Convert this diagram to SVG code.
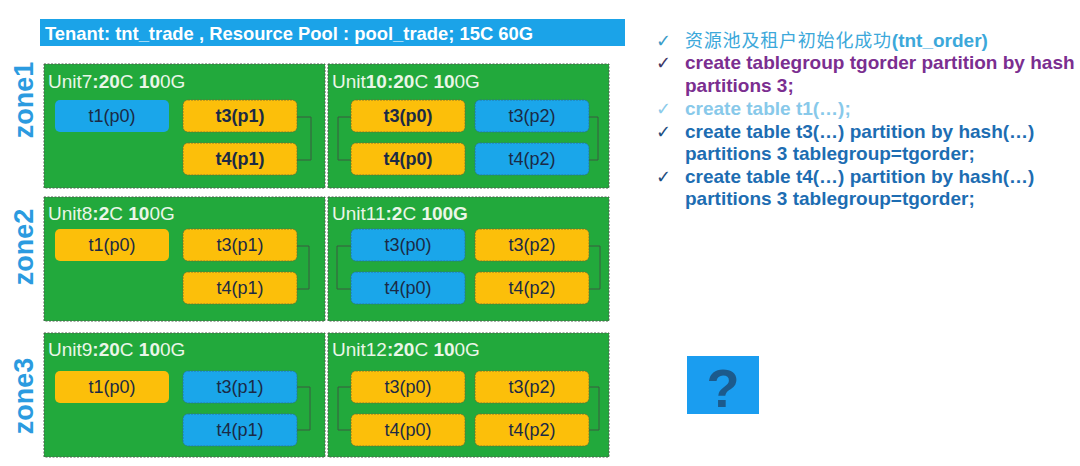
<svg xmlns="http://www.w3.org/2000/svg" width="1080" height="466" viewBox="0 0 1080 466">
<style>
.panel{fill:#22a93c;stroke:#4f5f4f;stroke-width:1;stroke-dasharray:2 1.5}
.o{fill:#fcbf0a;stroke:#6f6a30;stroke-width:0.8;stroke-dasharray:2 1}
.b{fill:#1aa6ea;stroke:#2b6d95;stroke-width:0.8;stroke-dasharray:2 1}
.bt{font-family:"Liberation Sans",Arial,sans-serif;font-size:18px;fill:#1b2a45;text-anchor:middle}
.bold{font-weight:bold}
.ul{font-family:"Liberation Sans",Arial,sans-serif;font-size:19px;fill:#eaf6e8}
.zone{font-family:"Liberation Sans",Arial,sans-serif;font-size:27px;font-weight:bold;fill:#2b9be0;text-anchor:middle}
.con{fill:none;stroke:#3a5a40;stroke-width:1}
.rt{font-family:"Liberation Sans",Arial,"Noto Sans CJK SC",sans-serif;font-size:19px;font-weight:bold}
.ck{font-family:"DejaVu Sans",sans-serif;font-size:18px}
</style>
<rect width="1080" height="466" fill="#ffffff"/>
<g id="banner">
<rect x="40" y="19" width="585" height="27" fill="#1ba3e8"/>
<text x="45" y="39.5" font-family="Liberation Sans,Arial,sans-serif" font-size="18.4" font-weight="bold" fill="#ffffff">Tenant: tnt_trade , Resource Pool : pool_trade; 15C 60G</text>
</g>
<g id="zones">
<text class="zone" transform="translate(33,100) rotate(-90)">zone1</text>
<text class="zone" transform="translate(33,247) rotate(-90)">zone2</text>
<text class="zone" transform="translate(33,396) rotate(-90)">zone3</text>
</g>
<g id="unit7">
<rect class="panel" x="44" y="64" width="281" height="124"/>
<text class="ul" x="48" y="88">Unit7<tspan class="bold">:20</tspan>C <tspan class="bold">10</tspan>0G</text>
<rect class="b" x="55" y="100" width="114" height="32" rx="5" style="stroke:none"/><text class="bt" x="112" y="122">t1(p0)</text>
<rect class="o" x="183" y="100" width="114" height="32" rx="5"/><text class="bt bold" x="240" y="122">t3(p1)</text>
<rect class="o" x="183" y="143" width="114" height="32" rx="5"/><text class="bt bold" x="240" y="165">t4(p1)</text>
</g>
<g id="unit10">
<rect class="panel" x="328" y="64" width="281" height="124"/>
<text class="ul" x="332" y="88">Unit<tspan class="bold">10:20</tspan>C <tspan class="bold">10</tspan>0G</text>
<rect class="o" x="351" y="100" width="114" height="32" rx="5"/><text class="bt bold" x="408" y="122">t3(p0)</text>
<rect class="b" x="475" y="100" width="114" height="32" rx="5"/><text class="bt" x="532" y="122">t3(p2)</text>
<rect class="o" x="351" y="143" width="114" height="32" rx="5"/><text class="bt bold" x="408" y="165">t4(p0)</text>
<rect class="b" x="475" y="143" width="114" height="32" rx="5"/><text class="bt" x="532" y="165">t4(p2)</text>
</g>
<g id="unit8">
<rect class="panel" x="44" y="197" width="281" height="124"/>
<text class="ul" x="48" y="220">Unit8<tspan class="bold">:2</tspan>C <tspan class="bold">10</tspan>0G</text>
<rect class="o" x="55" y="229" width="114" height="32" rx="5" style="stroke:none"/><text class="bt" x="112" y="251">t1(p0)</text>
<rect class="o" x="183" y="229" width="114" height="32" rx="5"/><text class="bt" x="240" y="251">t3(p1)</text>
<rect class="o" x="183" y="272" width="114" height="32" rx="5"/><text class="bt" x="240" y="294">t4(p1)</text>
</g>
<g id="unit11">
<rect class="panel" x="328" y="197" width="281" height="124"/>
<text class="ul" x="332" y="220">Unit11<tspan class="bold">:2</tspan>C <tspan class="bold">100G</tspan></text>
<rect class="b" x="351" y="229" width="114" height="32" rx="5"/><text class="bt" x="408" y="251">t3(p0)</text>
<rect class="o" x="475" y="229" width="114" height="32" rx="5"/><text class="bt" x="532" y="251">t3(p2)</text>
<rect class="b" x="351" y="272" width="114" height="32" rx="5"/><text class="bt" x="408" y="294">t4(p0)</text>
<rect class="o" x="475" y="272" width="114" height="32" rx="5"/><text class="bt" x="532" y="294">t4(p2)</text>
</g>
<g id="unit9">
<rect class="panel" x="44" y="333" width="281" height="124"/>
<text class="ul" x="48" y="356">Unit9<tspan class="bold">:20</tspan>C <tspan class="bold">10</tspan>0G</text>
<rect class="o" x="55" y="371" width="114" height="32" rx="5" style="stroke:none"/><text class="bt" x="112" y="393">t1(p0)</text>
<rect class="b" x="183" y="371" width="114" height="32" rx="5"/><text class="bt" x="240" y="393">t3(p1)</text>
<rect class="b" x="183" y="414" width="114" height="32" rx="5"/><text class="bt" x="240" y="436">t4(p1)</text>
</g>
<g id="unit12">
<rect class="panel" x="328" y="333" width="281" height="124"/>
<text class="ul" x="332" y="356">Unit12<tspan class="bold">:20</tspan>C <tspan class="bold">10</tspan>0G</text>
<rect class="o" x="351" y="371" width="114" height="32" rx="5"/><text class="bt" x="408" y="393">t3(p0)</text>
<rect class="o" x="475" y="371" width="114" height="32" rx="5"/><text class="bt" x="532" y="393">t3(p2)</text>
<rect class="o" x="351" y="414" width="114" height="32" rx="5"/><text class="bt" x="408" y="436">t4(p0)</text>
<rect class="o" x="475" y="414" width="114" height="32" rx="5"/><text class="bt" x="532" y="436">t4(p2)</text>
</g>
<g id="connectors">
<path class="con" d="M297 117H311V160H297"/>
<path class="con" d="M351 117H338V160H351"/>
<path class="con" d="M589 117H598V160H589"/>
<path class="con" d="M297 246H309V289H297"/>
<path class="con" d="M351 246H337V289H351"/>
<path class="con" d="M589 246H600V289H589"/>
<path class="con" d="M297 387H310V430H297"/>
<path class="con" d="M351 387H338V430H351"/>
<path class="con" d="M589 387H599V430H589"/>
</g>
<g id="notes">
<text class="ck" x="656" y="47" fill="#3a9cc8">✓</text>
<text class="rt" x="685" y="47" fill="#3ca8da"><tspan font-weight="normal" font-family="Noto Sans CJK SC,sans-serif" font-size="18" letter-spacing="0.8">资源池及租户初始化成功</tspan>(tnt_order)</text>
<text class="ck" x="656" y="69" fill="#3d3566">✓</text>
<text class="rt" x="685" y="69" fill="#7b2e90">create tablegroup tgorder partition by hash</text>
<text class="rt" x="685" y="92" fill="#7b2e90">partitions 3;</text>
<text class="ck" x="656" y="115" fill="#8ccbea">✓</text>
<text class="rt" x="685" y="115" fill="#88c9ea">create table t1(…);</text>
<text class="ck" x="656" y="138" fill="#1d4d80">✓</text>
<text class="rt" x="685" y="138" fill="#1d6db2">create table t3(…) partition by hash(…)</text>
<text class="rt" x="685" y="160" fill="#1d6db2">partitions 3 tablegroup=tgorder;</text>
<text class="ck" x="656" y="183" fill="#1d4d80">✓</text>
<text class="rt" x="685" y="183" fill="#1d6db2">create table t4(…) partition by hash(…)</text>
<text class="rt" x="685" y="205" fill="#1d6db2">partitions 3 tablegroup=tgorder;</text>
</g>
<g id="question">
<rect x="687" y="356" width="72" height="58" fill="#1a9df0"/>
<text x="723" y="407" font-family="Liberation Sans,Arial,sans-serif" font-size="54" font-weight="bold" fill="#1c5a8c" text-anchor="middle">?</text>
</g>
</svg>
